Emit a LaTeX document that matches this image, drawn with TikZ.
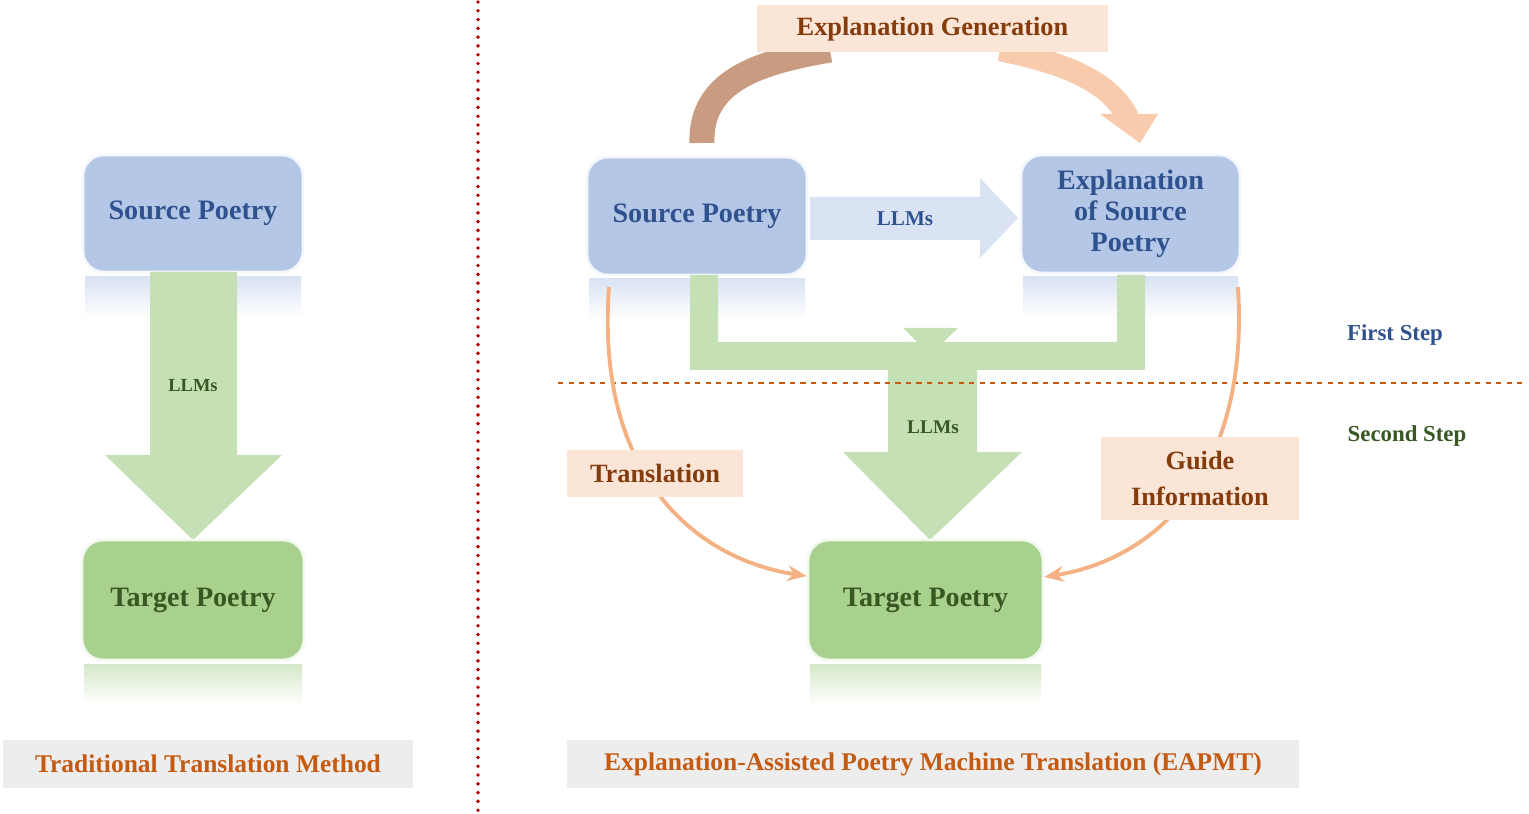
\documentclass[tikz,border=0pt]{standalone}
\usepackage{fontspec}
\setmainfont{Liberation Serif}
\usetikzlibrary{arrows.meta}
\definecolor{boxblue}{RGB}{180,199,231}
\definecolor{boxgreen}{RGB}{169,209,142}
\definecolor{arrgreen}{RGB}{197,224,180}
\definecolor{arrblue}{RGB}{218,227,243}
\definecolor{txtblue}{RGB}{47,82,143}
\definecolor{txtgreen}{RGB}{56,87,35}
\definecolor{txtbrown}{RGB}{132,60,12}
\definecolor{capor}{RGB}{197,90,17}
\definecolor{peach}{RGB}{251,229,214}
\definecolor{curve}{RGB}{244,177,131}
\definecolor{capgray}{RGB}{237,237,237}
\tikzset{
 box/.style={rounded corners=12pt,draw=white!85!boxblue,line width=1.5pt,font=\bfseries\fontsize{16}{19}\selectfont,align=center},
 bbox/.style={box,fill=boxblue,text=txtblue},
 gbox/.style={box,fill=boxgreen,text=txtgreen,draw=white!85!boxgreen},
 lab/.style={fill=peach,text=txtbrown,font=\bfseries\fontsize{15}{18}\selectfont,align=center},
 capbox/.style={fill=capgray,text=capor,font=\bfseries\fontsize{14.5}{17}\selectfont},
 llm/.style={text=txtgreen,font=\bfseries\fontsize{11}{13}\selectfont},
 crv/.style={draw=curve,line width=2.2pt,-{Stealth[length=11pt,width=9pt]}},
}
\begin{document}
\begin{tikzpicture}[x=0.02cm,y=-0.02cm]
\useasboundingbox (0,0) rectangle (1529,814);
% reflections
\shade[top color=boxblue!50,bottom color=white] (85,277) rectangle (301,318);
\shade[top color=boxgreen!50,bottom color=white] (84,664) rectangle (302,704);
\shade[top color=boxblue!50,bottom color=white] (589,279) rectangle (805,320);
\shade[top color=boxblue!50,bottom color=white] (1023,277) rectangle (1238,318);
\shade[top color=boxgreen!50,bottom color=white] (810,664) rectangle (1041,704);
% left side
\node[bbox,minimum width=220*0.02cm,minimum height=117*0.02cm] (ls) at (193,213.5) {Source Poetry};
\fill[arrgreen] (150,272) -- (237,272) -- (237,455) -- (282,455) -- (193,540) -- (105,455) -- (150,455) -- cycle;
\node[llm,font=\bfseries\fontsize{10.5}{12}\selectfont] (l1) at (193,386) {LLMs};
\node[gbox,minimum width=222*0.02cm,minimum height=120*0.02cm] (lt) at (193,600) {Target Poetry};
\node[capbox,minimum width=410*0.02cm,minimum height=48*0.02cm] (c1) at (208,764) {Traditional Translation Method};
\draw[red!75!black,line width=2.2pt,dash pattern=on 0pt off 5pt,line cap=round] (478,2) coordinate (d1) -- (478,812) coordinate (d2);
% right side
\node[bbox,minimum width=220*0.02cm,minimum height=118*0.02cm] (rs) at (697,216) {Source Poetry};
\node[bbox,minimum width=219*0.02cm,minimum height=118*0.02cm,font=\bfseries\fontsize{16}{17.5}\selectfont] (ex) at (1130.5,214) {Explanation\\of Source\\Poetry};
\fill[arrblue] (810,197) -- (980,197) -- (980,178) -- (1018,218) -- (980,258) -- (980,240) -- (810,240) -- cycle;
\node[text=txtblue,font=\bfseries\fontsize{12}{14}\selectfont] (l2) at (905,219) {LLMs};
\fill[arrgreen] (690,275) -- (718,275) -- (718,342) -- (1117,342) -- (1117,275) -- (1145,275) -- (1145,370) -- (977,370) -- (977,452) -- (1022,452) -- (930,540) -- (843,452) -- (888,452) -- (888,370) -- (690,370) -- cycle;
\fill[arrgreen] (903,328) -- (930,355) -- (958,328) -- cycle;
\node[llm] (l3) at (933,427) {LLMs};
\draw[capor,dashed,line width=0.6pt] (558,383) coordinate (s1) -- (1522,383) coordinate (s2);
\node[text=txtblue,font=\bfseries\fontsize{13}{15}\selectfont] (fs) at (1395,335) {First Step};
\node[text=txtgreen,font=\bfseries\fontsize{13}{15}\selectfont] (ss) at (1407,436) {Second Step};
\node[gbox,minimum width=235*0.02cm,minimum height=120*0.02cm] (rt) at (925.5,600) {Target Poetry};
\draw[crv] (609,287) .. controls (595,480) and (700,560) .. (rt.west|-0,576);
\draw[crv] (1238,287) .. controls (1250,480) and (1150,560) .. (rt.east|-0,577);
\node[lab,minimum width=176*0.02cm,minimum height=47*0.02cm] (tr) at (655,473.5) {Translation};
\node[lab,minimum width=198*0.02cm,minimum height=83*0.02cm,font=\bfseries\fontsize{15}{20}\selectfont] (gi) at (1200,478.5) {Guide\\Information};
% top arrow
\draw[line width=0.5cm,color={rgb,255:red,201;green,155;blue,128}] (702,143) .. controls (700,80) and (760,62) .. (830,50);
\draw[line width=0.45cm,color={rgb,255:red,248;green,203;blue,173}] (1000,50) .. controls (1060,62) and (1110,80) .. (1128,118);
\fill[color={rgb,255:red,248;green,203;blue,173}] (1100,114) -- (1158,114) -- (1140,143) -- cycle;
\node[lab,minimum width=351*0.02cm,minimum height=47*0.02cm] (eg) at (932.5,29) {Explanation Generation};
\node[capbox,minimum width=732*0.02cm,minimum height=48*0.02cm] (c2) at (933,764) {Explanation-Assisted Poetry Machine Translation (EAPMT)};
\end{tikzpicture}
\end{document}
